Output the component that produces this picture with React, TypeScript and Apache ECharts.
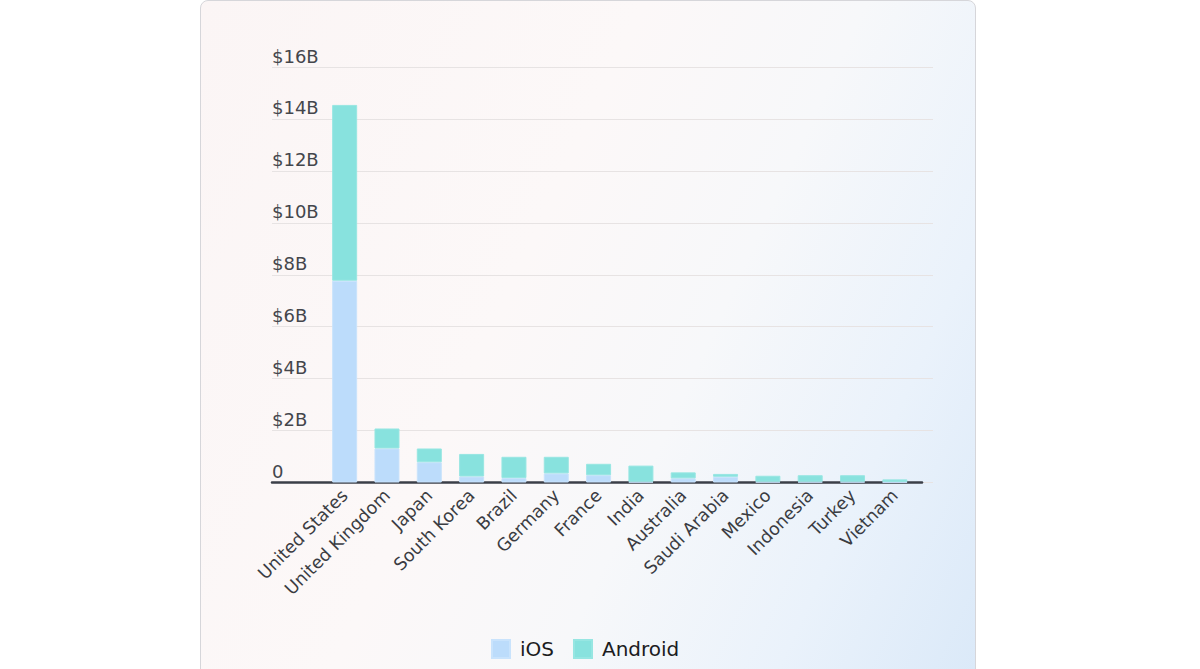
import React, { useEffect, useRef } from "react";
import * as echarts from "echarts";

const countries = [
  "United States", "United Kingdom", "Japan", "South Korea", "Brazil", "Germany", "France",
  "India", "Australia", "Saudi Arabia", "Mexico", "Indonesia", "Turkey", "Vietnam",
];
const iosRevenue = [7.77, 1.31, 0.78, 0.23, 0.17, 0.35, 0.28, 0.03, 0.16, 0.22, 0.03, 0.03, 0.03, 0.02];
const androidRevenue = [6.77, 0.77, 0.53, 0.87, 0.82, 0.64, 0.44, 0.62, 0.23, 0.11, 0.23, 0.25, 0.25, 0.1];
const yMin = 0;
const yMax = 16;
const yStep = 2;

const FONT = "'DejaVu Sans', sans-serif";

export default function App() {
  const ref = useRef<HTMLDivElement>(null);
  useEffect(() => {
    if (!ref.current) return;
    const chart = echarts.init(ref.current, undefined, { renderer: "svg" });
    chart.setOption({
      animation: false,
      backgroundColor: "transparent",
      textStyle: { fontFamily: FONT },
      legend: {
        data: ["iOS", "Android"],
        left: 491,
        top: 639,
        padding: 0,
        itemWidth: 18,
        itemHeight: 18,
        itemGap: 19,
        icon: "rect",
        textStyle: { fontSize: 20, color: "#1c1c1e", fontFamily: FONT, padding: [0, 0, 0, 5] },
      },
      grid: [
        { left: 272, right: 267, top: 67, bottom: 186.5, containLabel: false },
        { left: 272, right: 278, top: 67, bottom: 186.5, containLabel: false },
        { left: 323.5, right: 284, top: 67, bottom: 186.5, containLabel: false },
      ],
      xAxis: [
        { type: "value", gridIndex: 0, min: 0, max: 1, show: false },
        {
          type: "value", gridIndex: 1, min: 0, max: 1,
          axisLine: { show: true, lineStyle: { color: "#3b3f48", width: 2.5 } },
          axisTick: { show: false }, axisLabel: { show: false }, splitLine: { show: false },
        },
        {
          type: "category", gridIndex: 2, data: countries,
          axisLine: { show: false }, axisTick: { show: false },
          axisLabel: { rotate: 45, fontSize: 17.5, color: "#3a3c42", margin: 10, interval: 0, fontFamily: FONT },
        },
      ],
      yAxis: [
        {
          type: "value", gridIndex: 0, min: yMin, max: yMax, interval: yStep,
          axisLine: { show: false }, axisTick: { show: false },
          splitLine: { show: true, lineStyle: { color: "#e7e3e3", width: 1 } },
          axisLabel: {
            inside: true, margin: 0, align: "left", verticalAlign: "bottom",
            padding: [0, 0, 2, 0], fontSize: 18, color: "#44464c", fontFamily: FONT,
            formatter: (v: number) => (v === 0 ? "0" : `$${v}B`),
          },
        },
        { type: "value", gridIndex: 1, min: yMin, max: yMax, show: false },
        { type: "value", gridIndex: 2, min: yMin, max: yMax, show: false },
      ],
      series: [
        {
          name: "iOS", type: "bar", stack: "rev", xAxisIndex: 2, yAxisIndex: 2,
          data: iosRevenue, barWidth: 25,
          itemStyle: { color: "#bcdcfb", borderColor: "#c9e3fc", borderWidth: 1 },
        },
        {
          name: "Android", type: "bar", stack: "rev", xAxisIndex: 2, yAxisIndex: 2,
          data: androidRevenue, barWidth: 25,
          itemStyle: { color: "#88e2de", borderColor: "#97e6e2", borderWidth: 1 },
        },
      ],
    });
    return () => chart.dispose();
  }, []);

  return (
    <div style={{ position: "fixed", left: 0, top: 0, width: 1200, height: 669, background: "#ffffff", overflow: "hidden" }}>
      <div
        style={{
          position: "absolute", left: 200, top: 0, width: 774, height: 720,
          border: "1px solid #d6d6da", borderRadius: 8,
          background: "linear-gradient(115deg, #fbf5f5 0%, #fcf8f8 40%, #f7f8fa 60%, #eaf2fb 80%, #d9e8f8 100%)",
        }}
      />
      <div ref={ref} style={{ position: "absolute", left: 0, top: 0, width: 1200, height: 669 }} />
    </div>
  );
}
